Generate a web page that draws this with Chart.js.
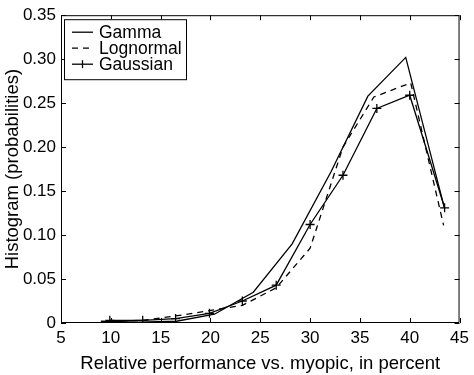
<!DOCTYPE html>
<html>
<head>
<meta charset="utf-8">
<script src="https://cdn.jsdelivr.net/npm/chart.js@4.4.1/dist/chart.umd.min.js"></script>
<style>
  html, body { margin: 0; padding: 0; background: #fff; }
  #wrap { width: 474px; height: 375px; }
</style>
</head>
<body>
<div id="wrap"><canvas id="histChart"></canvas></div>
<script>
const seriesNames = ["Gamma", "Lognormal", "Gaussian"];

const gammaX = [9.0, 12.8, 16.6, 20.4, 24.3, 28.2, 32.1, 35.8, 39.6, 43.5];
const gammaY = [0.002, 0.001, 0.002, 0.010, 0.035, 0.090, 0.172, 0.258, 0.302, 0.130];

const lognormalX = [9.9, 13.2, 16.5, 19.9, 23.2, 26.6, 30.0, 33.3, 36.4, 40.1, 43.4];
const lognormalY = [0.002, 0.003, 0.008, 0.014, 0.020, 0.040, 0.085, 0.200, 0.257, 0.273, 0.111];

const gaussianX = [9.9, 13.2, 16.5, 19.9, 23.2, 26.6, 30.0, 33.3, 36.7, 40.0, 43.5];
const gaussianY = [0.003, 0.003, 0.005, 0.011, 0.025, 0.043, 0.112, 0.168, 0.244, 0.259, 0.131];

const xTicks = [5, 10, 15, 20, 25, 30, 35, 40, 45];
const yTicks = [0, 0.05, 0.10, 0.15, 0.20, 0.25, 0.30, 0.35];

const FONT = "'Liberation Sans', Arial, Helvetica, sans-serif";

function toPoints(xs, ys) {
    return xs.map((x, i) => ({ x: x, y: ys[i] }));
}

// MATLAB style box with inward ticks on all four sides
const frameTicks = {
    id: "frameTicks",
    afterDatasetsDraw(chart) {
        const { ctx, chartArea: a, scales: { x, y } } = chart;
        ctx.save();
        ctx.strokeStyle = "#000";
        ctx.lineWidth = 1;
        ctx.beginPath();
        ctx.rect(a.left + 0.5, a.top + 0.5, a.right - a.left - 1, a.bottom - a.top - 1);
        x.ticks.forEach((t) => {
            const px = Math.round(x.getPixelForValue(t.value)) + 0.5;
            ctx.moveTo(px, a.bottom);
            ctx.lineTo(px, a.bottom - 5);
            ctx.moveTo(px, a.top);
            ctx.lineTo(px, a.top + 5);
        });
        y.ticks.forEach((t) => {
            const py = Math.round(y.getPixelForValue(t.value)) + 0.5;
            ctx.moveTo(a.left, py);
            ctx.lineTo(a.left + 5, py);
            ctx.moveTo(a.right, py);
            ctx.lineTo(a.right - 5, py);
        });
        ctx.stroke();
        ctx.restore();
    },
    afterDraw(chart) {
        const { ctx, chartArea: a } = chart;
        const left = a.left + 3, top = a.top + 4, w = 122, h = 60;
        ctx.save();
        ctx.fillStyle = "#fff";
        ctx.fillRect(left, top, w, h);
        ctx.strokeStyle = "#000";
        ctx.lineWidth = 1;
        ctx.strokeRect(left + 0.5, top + 0.5, w, h);
        ctx.font = "17.5px " + FONT;
        ctx.textBaseline = "middle";
        ctx.fillStyle = "#000";
        chart.data.datasets.forEach((ds, i) => {
            const yy = top + 13 + i * 16;
            ctx.beginPath();
            ctx.lineWidth = 1.3;
            ctx.setLineDash(ds.borderDash || []);
            ctx.moveTo(left + 8, yy);
            ctx.lineTo(left + 29, yy);
            ctx.stroke();
            ctx.setLineDash([]);
            if (ds.pointRadius > 0) {
                ctx.beginPath();
                ctx.moveTo(left + 18.5, yy - 4);
                ctx.lineTo(left + 18.5, yy + 4);
                ctx.stroke();
            }
            ctx.fillText(ds.label, left + 35, yy + 1);
        });
        ctx.restore();
    },
};

new Chart(document.getElementById("histChart"), {
    type: "scatter",
    data: {
        datasets: [
            {
                label: seriesNames[0],
                data: toPoints(gammaX, gammaY),
                showLine: true,
                borderColor: "#000",
                borderWidth: 1.3,
                pointRadius: 0,
            },
            {
                label: seriesNames[1],
                data: toPoints(lognormalX, lognormalY),
                showLine: true,
                borderColor: "#000",
                borderWidth: 1.3,
                borderDash: [6, 5],
                pointRadius: 0,
            },
            {
                label: seriesNames[2],
                data: toPoints(gaussianX, gaussianY),
                showLine: true,
                borderColor: "#000",
                borderWidth: 1.3,
                pointStyle: "cross",
                pointRadius: 4.5,
                pointBorderWidth: 1.3,
                pointBorderColor: "#000",
            },
        ],
    },
    options: {
        responsive: true,
        maintainAspectRatio: false,
        animation: false,
        layout: { padding: { top: 5, right: 8, left: 0, bottom: 0 } },
        plugins: {
            legend: { display: false },
            tooltip: { enabled: false },
        },
        scales: {
            x: {
                type: "linear",
                min: 5,
                max: 45,
                afterBuildTicks(scale) {
                    scale.ticks = xTicks.map((v) => ({ value: v }));
                },
                afterFit(scale) {
                    scale.height = 52;
                },
                grid: { display: false, drawTicks: false },
                border: { display: false },
                ticks: {
                    color: "#000",
                    padding: 5,
                    font: { family: FONT, size: 17 },
                    maxRotation: 0,
                    callback: (v) => String(v),
                },
                title: {
                    display: true,
                    text: "Relative performance vs. myopic, in percent",
                    color: "#000",
                    font: { family: FONT, size: 18.5 },
                    padding: { top: 0, bottom: 0 },
                },
            },
            y: {
                min: 0,
                max: 0.35,
                afterBuildTicks(scale) {
                    scale.ticks = yTicks.map((v) => ({ value: v }));
                },
                afterFit(scale) {
                    scale.width = 61;
                },
                grid: { display: false, drawTicks: false },
                border: { display: false },
                ticks: {
                    color: "#000",
                    padding: 5,
                    font: { family: FONT, size: 17 },
                    callback: (v) => (v === 0 ? "0" : v.toFixed(2)),
                },
                title: {
                    display: true,
                    text: "Histogram (probabilities)",
                    color: "#000",
                    font: { family: FONT, size: 18.5 },
                    padding: { top: 2, bottom: 2 },
                },
            },
        },
    },
    plugins: [frameTicks],
});
</script>
</body>
</html>
